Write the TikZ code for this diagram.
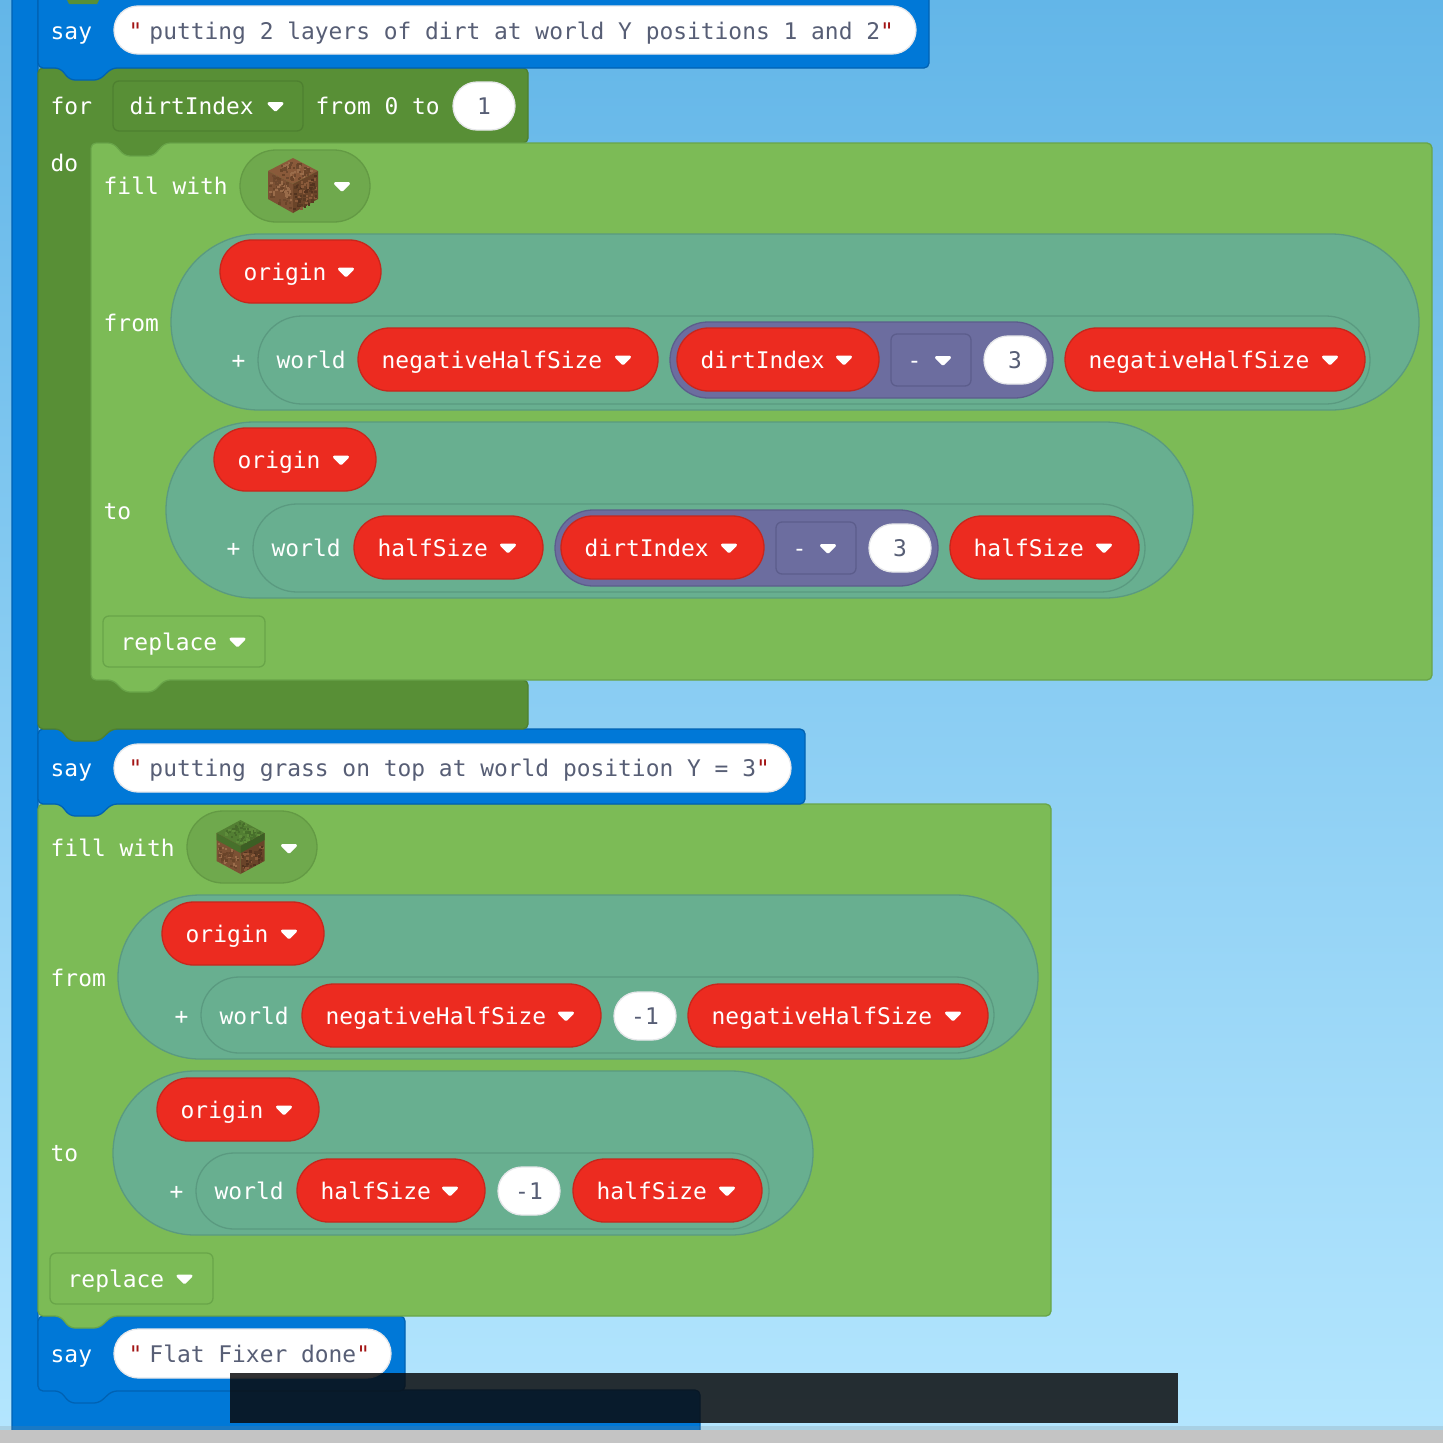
\documentclass[tikz,border=0pt]{standalone}
\usepackage{fontspec}
\usetikzlibrary{shapes.misc}
\setmainfont{DejaVu Sans Mono}
\newfontfamily\quotefont{DejaVu Sans Mono}
\definecolor{skytop}{HTML}{63B6E8}
\definecolor{skybot}{HTML}{B4E6FE}
\definecolor{sayblue}{HTML}{0078D7}
\definecolor{sayline}{HTML}{0062B3}
\definecolor{loopgreen}{HTML}{588F36}
\definecolor{loopline}{HTML}{4E8030}
\definecolor{fillgreen}{HTML}{7CBB56}
\definecolor{fillline}{HTML}{69A549}
\definecolor{ddgreen}{HTML}{6FA94D}
\definecolor{ddline}{HTML}{639A44}
\definecolor{tealf}{HTML}{68AF90}
\definecolor{teall}{HTML}{5A9A80}
\definecolor{purplef}{HTML}{6C6D9F}
\definecolor{purplel}{HTML}{5C5D8C}
\definecolor{redf}{HTML}{EC2B20}
\definecolor{redl}{HTML}{C8261C}
\definecolor{inktext}{HTML}{575E75}
\definecolor{quotered}{HTML}{A31515}
\definecolor{veil}{HTML}{0A0A0C}
\newcommand{\tfont}{\fontsize{22.9}{26}\selectfont}
\newcommand{\qm}{{\quotefont\tfont\textcolor{quotered}{"}}}
\tikzset{
  x=1pt,y=-1pt,
  pillshape/.style={rounded rectangle,inner sep=0pt,outer sep=0pt,line width=1.3pt},
  rectshape/.style={rectangle,rounded corners=6pt,inner sep=0pt,outer sep=0pt,line width=1.3pt},
  whitepill/.style={pillshape,fill=white,draw=white!85!inktext},
  redpill/.style={pillshape,fill=redf,draw=redl},
  tealpill/.style={pillshape,fill=tealf,draw=teall},
  purplepill/.style={pillshape,fill=purplef,draw=purplel},
  blockpill/.style={pillshape,fill=ddgreen,draw=ddline},
  loopdd/.style={rectshape,fill=loopgreen,draw=loopline},
  filldd/.style={rectshape,fill=fillgreen,draw=fillline},
  mathdd/.style={rectshape,fill=purplef,draw=purplel},
  wlabel/.style={anchor=base west,inner sep=0pt,text=white,font=\tfont,xshift=-.5pt,yshift=-1pt},
  dlabel/.style={anchor=base,inner sep=0pt,text=inktext,font=\tfont,yshift=-1pt},
  qlabel/.style={anchor=base west,inner sep=0pt,text=inktext,font=\tfont,xshift=-.5pt,yshift=-1pt},
  caret/.style={fill=white,draw=white,line width=3pt,line join=round},
  sayblock/.style={fill=sayblue,draw=sayline,line width=1.3pt,rounded corners=5pt},
  loopblock/.style={fill=loopgreen,draw=loopline,line width=1.3pt,rounded corners=5pt},
  fillblock/.style={fill=fillgreen,draw=fillline,line width=1.3pt,rounded corners=5pt},
}
% name, style, x1, y1, x2, y2
\newcommand{\shapebox}[6]{%
  \pgfmathsetmacro\bw{(#5)-(#3)}\pgfmathsetmacro\bh{(#6)-(#4)}%
  \node[#2,minimum width=\bw pt,minimum height=\bh pt] (#1) at ({((#3)+(#5))/2},{((#4)+(#6))/2}) {};}
\newcommand{\lab}[4]{\node[wlabel] (#1) at (#2,#3+7.5) {#4};}
\newcommand{\caretat}[2]{\fill[caret] ({#1-6.5},{#2-2.5}) -- ({#1+6.5},{#2-2.5}) -- ({#1},{#2+4}) -- cycle;}
% name, x1, ycentre, x2, text
\newcommand{\varpill}[5]{%
  \shapebox{#1}{redpill}{#2}{#3-31.5}{#4}{#3+31.5}%
  \node[wlabel] (#1t) at (#2+24,#3+7.5) {#5};%
  \caretat{#4-35}{#3}}
% name, xcentre, ycentre, text
\newcommand{\numpill}[4]{%
  \shapebox{#1}{whitepill}{#2-31}{#3-24}{#2+31}{#3+24}%
  \node[dlabel] (#1t) at (#2,#3+7.5) {#4};}
% name, style, x1, y1, x2, y2, textx, text, caretx
\newcommand{\ddbox}[9]{%
  \shapebox{#1}{#2}{#3}{#4}{#5}{#6}%
  \node[wlabel] (#1t) at (#7,{(#4+#6)/2+7.5}) {#8};%
  \caretat{#9}{(#4+#6)/2}}
% specks: Ox Oy Ax Ay Bx By vmin vmax n
\newcommand{\specks}[9]{%
  \foreach \i in {1,...,#9}{%
    \pgfmathsetmacro\uu{rnd}\pgfmathsetmacro\vv{#7+(#8-#7)*rnd}%
    \pgfmathtruncatemacro\cc{mod(\i,3)}%
    \ifcase\cc\def\sc{\speckA}\or\def\sc{\speckB}\else\def\sc{\speckC}\fi
    \fill[\sc] ({#1+\uu*(#3)+\vv*(#5)},{#2+\uu*(#4)+\vv*(#6)}) rectangle +(2.4,2.4);}}
\newcommand{\setspecks}[3]{\def\speckA{#1}\def\speckB{#2}\def\speckC{#3}}
\definecolor{dirtA}{HTML}{8A5A3A}
\definecolor{dirtB}{HTML}{6A4429}
\definecolor{dirtC}{HTML}{9A6C4A}
\definecolor{dirtD}{HTML}{52331F}
\definecolor{grasA}{HTML}{537F33}
\definecolor{grasB}{HTML}{47702B}
\definecolor{grasC}{HTML}{5E8C3A}
\newcommand{\dirtcube}[2]{%
  \begin{scope}[shift={(#1,#2)}]
    \fill[dirtA] (0,0)--(25,13)--(0,26)--(-25,13)--cycle;
    \fill[dirtA!90!black] (-25,13)--(0,26)--(0,55)--(-25,41)--cycle;
    \fill[dirtB] (25,13)--(0,26)--(0,55)--(25,41)--cycle;
    \setspecks{dirtB}{dirtC}{dirtA!80!black}
    \specks{0}{1}{-22}{11}{22}{11}{0}{1}{60}
    \specks{-24}{14}{22}{11}{0}{26}{0}{1}{70}
    \setspecks{dirtD}{dirtA}{dirtB!85!black}
    \specks{0}{27}{22}{-11}{0}{26}{0}{1}{70}
  \end{scope}}
\newcommand{\grasscube}[2]{%
  \begin{scope}[shift={(#1,#2)}]
    \fill[grasA] (0,0)--(24,13)--(0,26)--(-24,13)--cycle;
    \fill[dirtA!90!black] (-24,13)--(0,26)--(0,54)--(-24,41)--cycle;
    \fill[dirtB] (24,13)--(0,26)--(0,54)--(24,41)--cycle;
    \fill[grasB] (-24,13)--(0,26)--(0,33)--(-24,20)--cycle;
    \fill[grasB!85!black] (24,13)--(0,26)--(0,33)--(24,20)--cycle;
    \setspecks{grasB}{grasC}{grasA!85!black}
    \specks{0}{1}{-21}{11}{21}{11}{0}{1}{60}
    \setspecks{dirtB}{dirtC}{dirtA!80!black}
    \specks{-23}{22}{21}{11}{0}{17}{0}{1}{45}
    \setspecks{dirtD}{dirtA}{dirtB!85!black}
    \specks{0}{34}{21}{-11}{0}{17}{0}{1}{45}
  \end{scope}}
\begin{document}
\begin{tikzpicture}
\useasboundingbox (0,0) rectangle (1443,1443);
\pgfmathsetseed{7}
% sky
\shade[top color=skytop,bottom color=skybot] (0,0) rectangle (1443,1443);
% outer event block
\draw[sayblock] (12,-12) -- (38,-12) -- (38,1390) -- (700,1390) -- (700,1450) -- (12,1450) -- cycle;

% ---- third say
\draw[sayblock] (38,1316) -- (405,1316) -- (405,1391) -- (112,1391) -- (99,1403) -- (70,1403) -- (60,1391) -- (38,1391) -- cycle;
\lab{say3}{51}{1354}{say}
\shapebox{say3pill}{whitepill}{114}{1329}{391}{1378}
\node[qlabel] (say3t) at (129,1361.5) {\qm\hspace{7pt}Flat Fixer done\qm};

% ---- second fill
\draw[fillblock] (38,804) -- (1051,804) -- (1051,1316) -- (112,1316) -- (99,1328) -- (70,1328) -- (60,1316) -- (38,1316) -- cycle;
\lab{fill2}{51}{848}{fill with}
\shapebox{grassdd}{blockpill}{187}{811}{317}{883}
\grasscube{240.5}{820}
\caretat{289}{848}
\lab{from2}{51}{978}{from}
\shapebox{from2teal}{tealpill}{118}{895}{1038}{1059}
\varpill{org2a}{162}{933.5}{324}{origin}
\lab{plus2a}{175}{1016}{+}
\shapebox{world2a}{tealpill}{201}{977}{994}{1053}
\lab{world2at}{220}{1016}{world}
\varpill{neg2a}{302}{1015.5}{601}{negativeHalfSize}
\numpill{num2a}{645}{1016}{-1}
\varpill{neg2b}{688}{1015.5}{988}{negativeHalfSize}
\lab{to2}{51}{1153}{to}
\shapebox{to2teal}{tealpill}{113}{1071}{813}{1235}
\varpill{org2b}{157}{1109.5}{319}{origin}
\lab{plus2b}{170}{1191}{+}
\shapebox{world2b}{tealpill}{196}{1153}{769}{1229}
\lab{world2bt}{215}{1191}{world}
\varpill{half2a}{297}{1190.5}{485}{halfSize}
\numpill{num2b}{529}{1191}{-1}
\varpill{half2b}{573}{1190.5}{762}{halfSize}
\ddbox{repl2}{filldd}{50}{1253}{213}{1304}{68}{replace}{184.5}

% ---- second say
\draw[sayblock] (38,729) -- (805,729) -- (805,804) -- (112,804) -- (99,816) -- (70,816) -- (60,804) -- (38,804) -- cycle;
\lab{say2}{51}{768}{say}
\shapebox{say2pill}{whitepill}{114}{744}{791}{792}
\node[qlabel] (say2t) at (129,775.5) {\qm\hspace{7pt}putting grass on top at world position Y = 3\qm};

% ---- loop
\draw[loopblock] (38,68) -- (528,68) -- (528,143) -- (165,143) -- (153,156) -- (125,156) -- (113,143) -- (91,143) -- (91,680) -- (528,680) -- (528,729) -- (112,729) -- (99,741) -- (70,741) -- (60,729) -- (38,729) -- cycle;
\lab{forl}{51}{105.5}{for}
\ddbox{loopvar}{loopdd}{113}{81}{303}{131}{130}{dirtIndex}{275.5}
\lab{fromto}{316}{105.5}{from 0 to}
\numpill{num1}{484}{106}{1}
\lab{dol}{51}{163}{do}

% ---- first fill (inside the loop)
\draw[fillblock] (91,143) -- (113,143) -- (125,156) -- (153,156) -- (165,143) -- (1432,143) -- (1432,680) -- (165,680) -- (153,692) -- (125,692) -- (113,680) -- (91,680) -- cycle;
\lab{fill1}{104}{186}{fill with}
\shapebox{dirtdd}{blockpill}{240}{150}{370}{222}
\dirtcube{293}{158}
\caretat{342}{186}
\lab{from1}{104}{323}{from}
\shapebox{from1teal}{tealpill}{171}{234}{1419}{410}
\varpill{org1a}{220}{271.5}{381}{origin}
\lab{plus1a}{232}{360}{+}
\shapebox{world1a}{tealpill}{258}{316}{1370}{404}
\lab{world1at}{277}{360}{world}
\varpill{neg1a}{358}{359.5}{658}{negativeHalfSize}
\shapebox{math1a}{purplepill}{670}{322}{1053}{398}
\varpill{idx1a}{677}{359.5}{879}{dirtIndex}
\ddbox{op1a}{mathdd}{891}{334}{971}{386}{908}{-}{943}
\numpill{num1a}{1015}{360}{3}
\varpill{neg1b}{1065}{359.5}{1365}{negativeHalfSize}
\lab{to1}{104}{511}{to}
\shapebox{to1teal}{tealpill}{166}{422}{1193}{598}
\varpill{org1b}{214}{459.5}{376}{origin}
\lab{plus1b}{227}{548}{+}
\shapebox{world1b}{tealpill}{253}{504}{1145}{592}
\lab{world1bt}{272}{548}{world}
\varpill{half1a}{354}{547.5}{543}{halfSize}
\shapebox{math1b}{purplepill}{555}{510}{938}{586}
\varpill{idx1b}{561}{547.5}{764}{dirtIndex}
\ddbox{op1b}{mathdd}{776}{522}{856}{574}{793}{-}{828}
\numpill{num1b}{900}{548}{3}
\varpill{half1b}{950}{547.5}{1139}{halfSize}
\ddbox{repl1}{filldd}{103}{616}{265}{667}{121}{replace}{237.5}

% ---- first say
\draw[sayblock] (38,-20) -- (929,-20) -- (929,68) -- (112,68) -- (99,80) -- (70,80) -- (60,68) -- (38,68) -- cycle;
\fill[loopgreen] (66,-2) -- (100,-2) -- (97,4) -- (69,4) -- cycle;
\lab{say1}{51}{31}{say}
\shapebox{say1pill}{whitepill}{114}{6}{916}{54}
\node[qlabel] (say1t) at (129,38.5) {\qm\hspace{7pt}putting 2 layers of dirt at world Y positions 1 and 2\qm};

% ---- screen bottom
\fill[gray,opacity=.2] (0,1426) rectangle (1443,1430);
\fill[veil,opacity=.84] (230,1373) rectangle (1178,1423);
\fill[black!23] (0,1430) rectangle (1443,1443);
\end{tikzpicture}
\end{document}
